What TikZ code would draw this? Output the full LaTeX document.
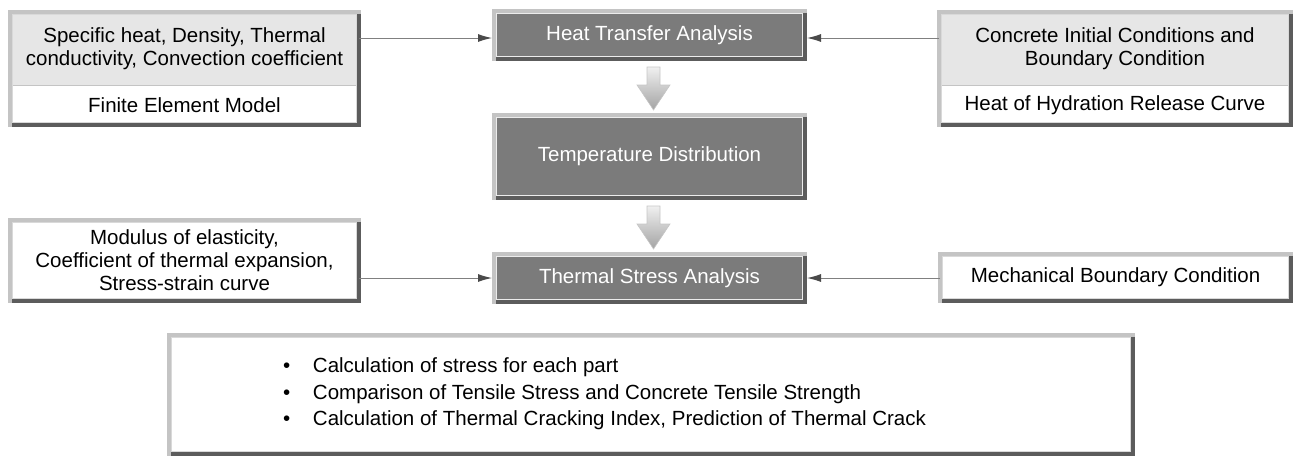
\documentclass[tikz,border=0pt]{standalone}
\usepackage{fontspec}
\setmainfont{Liberation Sans}
\usetikzlibrary{positioning,fit,arrows.meta}
\definecolor{stagefill}{HTML}{7B7B7B}
\definecolor{inputfill}{HTML}{E6E6E6}
\definecolor{framelight}{HTML}{C4C4C4}
\definecolor{framedark}{HTML}{5C5C5C}
\definecolor{linkgray}{HTML}{808080}
\definecolor{tipgray}{HTML}{4A4A4A}
\begin{document}
\begin{tikzpicture}[x=1pt, y=-1pt, >={Latex[length=14pt,width=8pt,color=tipgray]},
  every node/.style={font=\fontsize{20.5}{23}\selectfont},
  part/.style={inner sep=0pt, outer sep=0pt, align=center},
  frame/.style={draw=framelight, line width=3.5pt, inner sep=0pt, outer sep=0pt, align=center},
  stage/.style={frame, fill=stagefill, text=white, minimum width=311},
  inputbox/.style={frame, fill=white},
  edgedark/.style={draw=framedark, line width=3.5pt},
  edgeinner/.style={line width=1pt},
  link/.style={->, draw=linkgray, line width=1pt, shorten >=2pt},
  bigarrow/.style={top color=gray!12, bottom color=gray!72, draw=gray!45, line width=.6pt}]
\useasboundingbox (0,0) rectangle (1298,469);

% analysis chain
\node[stage, minimum height=48] (hta) at (649.5,35) {Heat Transfer Analysis};
\node[stage, minimum height=83] (td) at (649.5,156.5) {Temperature Distribution};
\node[stage, minimum height=48] (tsa) at (649.5,278) {Thermal Stress Analysis};

% thermal inputs
\node[part, fill=inputfill, minimum width=349, minimum height=73] (mat) at (184.5,48.5)
  {Specific heat, Density, Thermal\\conductivity, Convection coefficient};
\node[part, fill=white, minimum width=349, minimum height=40, below=0pt of mat] (fem) {Finite Element Model};
\node[frame, fit=(mat)(fem)] (mf) {};
\node[part, fill=inputfill, minimum width=352, minimum height=73] (ini) at (1115,48.5)
  {Concrete Initial Conditions and\\Boundary Condition};
\node[part, fill=white, minimum width=352, minimum height=40, below=0pt of ini] (hyd) {Heat of Hydration Release Curve};
\node[frame, fit=(ini)(hyd)] (ic) {};
\draw[framelight, line width=1pt] (mat.south west) -- (mat.south east);
\draw[framelight, line width=1pt] (ini.south west) -- (ini.south east);

% mechanical inputs
\node[inputbox, minimum width=349, minimum height=81] (elas) at (184.5,260.5)
  {Modulus of elasticity,\\Coefficient of thermal expansion,\\Stress-strain curve};
\node[inputbox, minimum width=351, minimum height=47] (mbc) at (1115.5,277.5) {Mechanical Boundary Condition};

% results
\node[inputbox, minimum width=964, minimum height=119] (res) at (651,394.5) {};
\node[part, anchor=west, align=left, font=\fontsize{20.5}{26.5}\selectfont] (list) at (283,394)
  {\makebox[30pt][l]{•}Calculation of stress for each part\\
   \makebox[30pt][l]{•}Comparison of Tensile Stress and Concrete Tensile Strength\\
   \makebox[30pt][l]{•}Calculation of Thermal Cracking Index, Prediction of Thermal Crack};

% bevels
\foreach \n in {hta,td,tsa,mf,ic,elas,mbc,res}
  \draw[edgedark] ([yshift=-1.75pt]\n.north east) -- (\n.south east) -- ([xshift=1.75pt]\n.south west);
\foreach \n in {hta,td,tsa}
  \draw[edgeinner, draw=white!85!gray] ([xshift=2.5pt,yshift=-2.5pt]\n.north west) rectangle ([xshift=-2.5pt,yshift=2.5pt]\n.south east);
\foreach \n in {mf,ic,elas,mbc,res}
  \draw[edgeinner, draw=gray!30] ([xshift=2.5pt,yshift=-2.5pt]\n.north west) rectangle ([xshift=-2.5pt,yshift=2.5pt]\n.south east);

% connectors
\draw[link] (mf.east |- 0,38) -- (hta.west |- 0,38);
\draw[link] (ic.west |- 0,38) -- (hta.east |- 0,38);
\draw[link] (elas.east |- tsa) -- (tsa.west);
\draw[link] (mbc.west |- tsa) -- (tsa.east);

% block arrows
\draw[bigarrow] (647,67) -- (660,67) -- (660,85) -- (670,85) -- (653.5,110) -- (637,85) -- (647,85) -- cycle;
\draw[bigarrow] (647,206) -- (660,206) -- (660,224) -- (670,224) -- (653.5,249) -- (637,224) -- (647,224) -- cycle;
\end{tikzpicture}
\end{document}
